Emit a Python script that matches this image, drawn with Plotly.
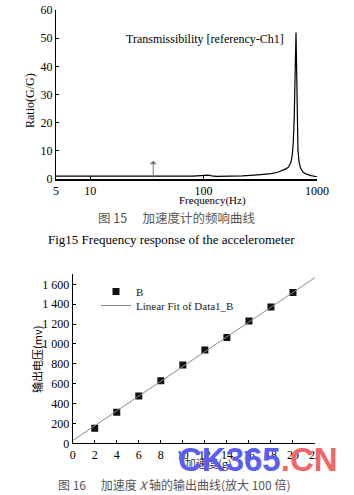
import math
import plotly.graph_objects as go

# ---- Figure 15: transmissibility (frequency response) ----
freq_hz = [5, 10, 20, 36, 50, 80, 95, 103, 110, 118, 130, 170, 220, 300, 394, 450, 500,
           532, 560, 590, 605, 618, 630, 640, 648, 653, 658, 664, 670, 680, 695, 715, 750,
           800, 885, 1000]
ratio_gg = [1.0, 1.0, 1.0, 1.0, 0.9, 1.0, 1.2, 1.4, 1.4, 1.1, 0.9, 1.0, 1.1, 1.5, 1.9, 2.4, 3.0,
            3.6, 4.2, 6.0, 8.5, 13.0, 22.0, 36.0, 47.0, 52.0, 44.0, 30.0, 18.0, 10.0, 6.0, 4.0,
            2.5, 1.8, 1.2, 0.8]
freq_ticks = [5, 10, 100, 1000]
ratio_ticks = [0, 10, 20, 30, 40, 50, 60]
marker_freq = 36      # arrow marker position (Hz)
marker_top = 6.5      # arrow tip value

# ---- Figure 16: output voltage vs acceleration ----
accel_g = [2, 4, 6, 8, 10, 12, 14, 16, 18, 20]
voltage_mv = [151, 312, 475, 629, 787, 938, 1065, 1232, 1373, 1518]
fit_x = [0, 22]
fit_y = [28, 1668]
accel_ticks = [0, 2, 4, 6, 8, 10, 12, 14, 16, 18, 20, 22]
volt_ticks = [0, 200, 400, 600, 800, 1000, 1200, 1400, 1600]
volt_ticktext = ["0", "200", "400", "600", "800", "1 000", "1 200", "1 400", "1 600"]

SERIF = "Liberation Serif, Times New Roman, serif"
CJK = "Noto Sans CJK SC"
W, H = 354, 495

fig = go.Figure()

fig.add_trace(go.Scatter(
    x=freq_hz, y=ratio_gg, mode="lines", line=dict(color="black", width=1.2),
    xaxis="x", yaxis="y", showlegend=False))

fig.add_trace(go.Scatter(
    x=accel_g, y=voltage_mv, mode="markers", name="B",
    marker=dict(symbol="square", size=7, color="#111111"),
    xaxis="x2", yaxis="y2", legend="legend"))
fig.add_trace(go.Scatter(
    x=fit_x, y=fit_y, mode="lines", name="Linear Fit of Data1_B",
    line=dict(color="#8a8a8a", width=1),
    xaxis="x2", yaxis="y2", legend="legend2"))

axis_common = dict(showgrid=False, zeroline=False, showline=True, linecolor="black",
                   ticks="inside", ticklen=3, tickcolor="black",
                   tickfont=dict(family=SERIF, size=12, color="black"))

legend_common = dict(xanchor="left", yanchor="top", bgcolor="rgba(0,0,0,0)",
                     font=dict(family=SERIF, size=11, color="#222"), itemwidth=30)

fig.update_layout(
    width=W, height=H, margin=dict(l=0, r=0, t=0, b=0),
    paper_bgcolor="white", plot_bgcolor="white", template="none",
    xaxis=dict(type="log", range=[0.69897, 3.0], domain=[56 / W, 317 / W],
               tickvals=freq_ticks, ticktext=[str(v) for v in freq_ticks],
               anchor="y", linewidth=2, **axis_common),
    yaxis=dict(range=[0, 60], domain=[(H - 179) / H, (H - 10) / H],
               tickvals=ratio_ticks, anchor="x", linewidth=1, **axis_common),
    xaxis2=dict(range=[0, 22], domain=[72.7 / W, 315 / W], tickvals=accel_ticks,
                anchor="y2", linewidth=1, **axis_common),
    yaxis2=dict(range=[0, 1700], domain=[(H - 443.3) / H, (H - 274.4) / H],
                tickvals=volt_ticks, ticktext=volt_ticktext, anchor="x2", linewidth=1,
                **axis_common),
    legend=dict(x=96 / W, y=(H - 277) / H, **legend_common),
    legend2=dict(x=96 / W, y=(H - 291) / H, **legend_common),
    showlegend=True,
)

ann = []
def paper_text(text, x, y, size, family=SERIF, color="black", angle=0):
    ann.append(dict(text=text, x=x / W, y=(H - y) / H, xref="paper", yref="paper",
                    showarrow=False, xanchor="center", yanchor="middle",
                    font=dict(family=family, size=size, color=color), textangle=angle))

# Figure 15 texts
paper_text("Transmissibility [referency-Ch1]", 205, 39, 12)
paper_text("Ratio(G/G)", 30, 101, 12, angle=-90)
paper_text("Frequency(Hz)", 212, 200, 11)
paper_text("图 15　 加速度计的频响曲线", 176, 218, 12.5, family=CJK, color="#555555")
paper_text("Fig15 Frequency response of the accelerometer", 171, 239, 13)

# Figure 16 texts
paper_text("输出电压(mv)", 37, 360, 11, family=CJK, angle=-90)
paper_text("加速度(g)", 208, 463, 11, family=CJK, color="#333333")
paper_text("图 16　 加速度 <i>X</i> 轴的输出曲线(放大 100 倍)", 174, 484, 12, family=CJK,
           color="#555555")

# watermark
paper_text('<b><span style="color:#5c5cf2">CK365</span>'
           '<span style="color:#f26666">.CN</span></b>', 258, 459, 33,
           family="Liberation Sans, Arial, sans-serif")

# arrow marker on fig 15
ann.append(dict(x=math.log10(marker_freq), y=marker_top, ax=math.log10(marker_freq), ay=0,
                xref="x", yref="y", axref="x", ayref="y", showarrow=True,
                arrowhead=1, arrowsize=1.2, arrowwidth=1, arrowcolor="#777777", text=""))

fig.update_layout(annotations=ann)
fig.write_html("out.html")
